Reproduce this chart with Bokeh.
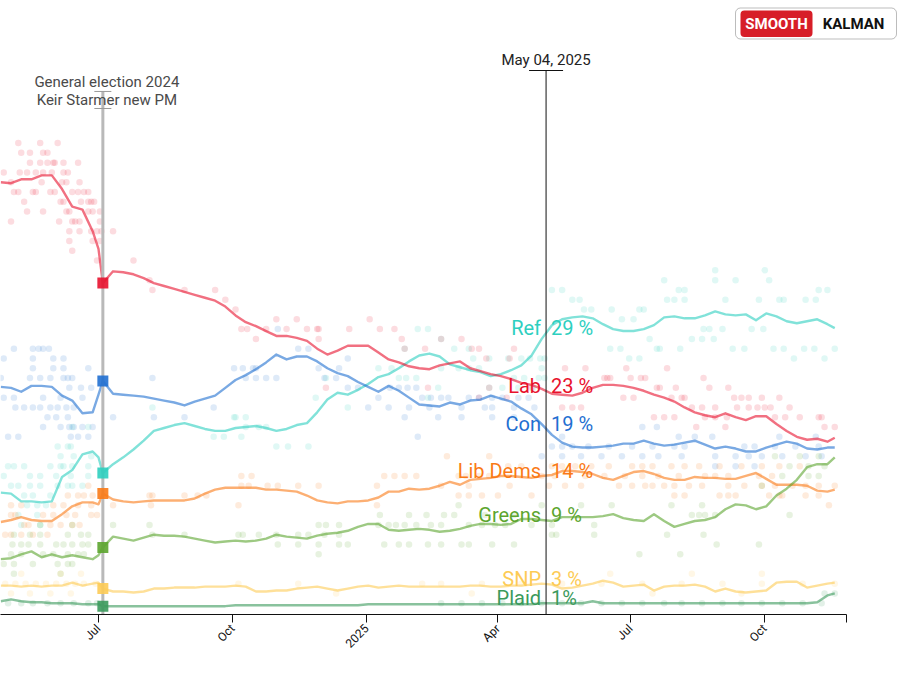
import math
import numpy as np
import pandas as pd
from bokeh.plotting import figure
from bokeh.models import Range1d, FixedTicker, CustomJSTickFormatter, Label, BoxAnnotation
from bokeh.core.properties import value
from bokeh.embed import file_html
from bokeh.resources import INLINE

FONT = "Roboto"

# ---------------- data ----------------
pre_dates = ["2024-04-25", "2024-05-02", "2024-05-09", "2024-05-16", "2024-05-23", "2024-05-30",
             "2024-06-06", "2024-06-13", "2024-06-20", "2024-06-27", "2024-07-01", "2024-07-04"]
post_dates = [d.strftime("%Y-%m-%d") for d in pd.date_range("2024-07-11", "2025-11-13", freq="7D")] + ["2025-11-18"]
dates = pd.to_datetime(pre_dates + post_dates)

parties = ["Ref", "Lab", "Con", "Lib Dems", "Greens", "SNP", "Plaid"]

ref = [12.3, 12.2, 11.4, 11.4, 11.3, 11.4, 13.9, 14.6, 16.2, 16.5, 15.9, 14.3,
       15.2, 15.9, 16.7, 17.6, 18.6, 18.9, 19.2, 19.4, 19.1, 18.8, 18.6, 18.6,
       18.9, 19.0, 19.1, 18.9, 18.6, 18.8, 19.2, 19.4, 20.5, 21.8, 22.5, 22.3, 22.8,
       23.4, 24.1, 24.4, 25.0, 25.7, 26.3, 26.5, 26.2, 25.4, 25.1, 24.8, 24.6, 24.2, 24.4, 24.8, 25.3, 26.3,
       28.0, 29.4, 30.0, 30.2, 30.3,
       30.1, 29.5,
       29.0, 28.8, 28.8, 29.0, 29.4, 30.2, 30.3, 30.1, 30.1, 30.4, 30.8, 30.5, 30.4, 30.5, 29.9, 30.6, 30.3, 29.8, 29.6, 29.8,
       30.0, 29.5, 29.1]
lab = [44.0, 43.9, 44.3, 44.3, 44.7, 44.7, 43.3, 41.5, 41.2, 39.0, 37.2, 33.7,
       34.9, 34.8, 34.6, 34.2, 33.7, 33.4, 33.1, 32.8, 32.5, 32.2, 31.9, 31.3,
       30.4, 29.7, 29.3, 28.8, 28.3, 28.3, 28.1, 27.8, 27.0, 26.4, 26.8, 27.3, 27.3,
       27.3, 26.6, 25.9, 25.6, 25.2, 25.0, 24.9, 25.3, 25.5, 25.7, 25.0, 24.7, 24.4, 24.2, 23.9, 23.5, 23.3,
       22.9, 22.4, 22.3, 22.2, 22.5,
       23.0, 23.3,
       23.3, 23.2, 23.0, 22.7, 22.3, 22.0, 21.6, 21.0, 20.5, 20.2, 20.0, 20.4, 20.0, 19.7, 20.1, 20.1, 19.3, 18.6, 18.0, 17.7,
       17.8, 17.5, 17.9]
con = [23.1, 23.0, 22.6, 23.2, 23.2, 23.1, 22.2, 21.7, 20.4, 20.5, 22.3, 23.7,
       22.4, 22.3, 22.2, 22.1, 21.9, 21.7, 21.5, 21.2, 21.6, 21.9, 22.2, 23.0,
       23.8, 24.3, 24.9, 25.6, 26.4, 25.9, 26.2, 26.2, 25.7, 25.0, 24.5, 24.2, 23.6,
       23.1, 22.6, 23.2, 22.7, 22.0, 21.3, 21.2, 21.1, 21.5, 21.3, 21.7, 21.8, 22.2, 21.9, 21.6, 20.9, 20.3,
       19.3, 18.2, 17.4, 17.0, 16.9,
       16.9, 17.0,
       17.1, 17.3, 17.3, 17.6, 17.3, 17.1, 17.2, 17.4, 17.6, 17.2, 16.8, 17.0, 16.8, 16.5, 16.5, 16.9, 17.2, 17.5, 17.3, 16.8,
       16.7, 16.9, 16.9]
libdems = [9.3, 9.5, 9.8, 9.5, 9.4, 9.4, 10.1, 10.9, 11.3, 11.3, 11.1, 12.2,
           11.6, 11.4, 11.3, 11.4, 11.5, 11.5, 11.5, 11.5, 11.7, 12.2, 12.6, 12.8,
           12.8, 12.8, 12.8, 12.6, 12.6, 12.5, 12.4, 12.0, 11.5, 11.3, 11.2, 11.4, 11.4,
           11.5, 11.8, 12.4, 12.4, 12.7, 12.6, 12.7, 13.0, 13.4, 13.1, 13.6, 13.7, 13.8, 14.0, 14.0, 13.9, 13.8,
           14.0, 14.1, 14.5, 14.5, 14.4,
           14.2, 13.8,
           13.6, 14.0, 14.4, 14.5, 14.2, 13.8, 13.6, 13.6, 13.9, 13.8, 13.8, 13.7, 13.7, 14.0, 14.3, 13.7, 13.1, 13.1, 13.1, 13.0,
           12.5, 12.4, 12.6]
greens = [5.5, 5.6, 6.0, 6.3, 5.7, 6.0, 5.7, 5.9, 5.7, 5.5, 5.9, 6.7,
          7.8, 7.6, 7.4, 7.7, 8.0, 7.9, 7.9, 7.8, 7.6, 7.4, 7.2, 7.3,
          7.4, 7.3, 7.4, 7.6, 8.0, 7.8, 7.7, 7.6, 7.9, 8.1, 8.2, 8.4, 8.8,
          9.1, 9.1, 8.5, 8.4, 8.5, 8.6, 8.5, 8.3, 8.4, 8.6, 8.9, 9.1, 9.1, 9.0, 9.1, 9.6, 9.6,
          9.5, 9.4, 9.8, 9.8, 9.8,
          9.8, 9.9,
          10.1, 9.7, 9.5, 9.4, 10.1, 9.4, 8.8, 9.1, 9.4, 9.5, 9.8, 10.6, 11.1, 11.0, 10.6, 10.9, 12.0, 12.7, 13.6, 14.9,
          15.2, 15.2, 15.9]
snp = [2.8, 2.8, 2.7, 2.8, 2.7, 2.8, 2.8, 3.1, 2.8, 3.0, 3.1, 2.5,
       2.2, 2.2, 2.1, 2.2, 2.5, 2.5, 2.6, 2.6, 2.6, 2.7, 2.7, 2.7,
       2.8, 2.7, 2.2, 2.2, 2.3, 2.3, 2.5, 2.6, 2.7, 2.5, 2.3, 2.5, 2.7,
       2.8, 2.6, 2.7, 2.8, 2.7, 2.7, 2.7, 2.7, 2.7, 2.7, 2.8, 2.8, 2.7, 2.7, 2.8, 2.8, 2.9,
       3.0, 2.9, 2.5, 2.6, 2.8,
       3.0, 3.3,
       3.1, 2.7, 2.8, 2.9, 2.3, 2.7, 2.8, 2.8, 2.9, 2.7, 2.2, 2.5, 2.2, 2.1, 2.2, 2.3, 3.1, 3.2, 3.2, 2.6,
       2.8, 3.0, 3.1]
plaid = [1.2, 1.4, 1.2, 1.1, 1.1, 1.0, 1.0, 1.0, 0.9, 0.9, 0.9, 0.7,
         0.7, 0.7, 0.7, 0.7, 0.7, 0.7, 0.7, 0.7, 0.7, 0.7, 0.7, 0.7,
         0.8, 0.8, 0.8, 0.8, 0.8, 0.8, 0.8, 0.8, 0.8, 0.8, 0.8, 0.8, 0.8,
         0.9, 0.9, 0.9, 0.9, 0.9, 0.9, 0.9, 0.9, 0.9, 0.9, 0.9, 0.9, 0.9, 0.9, 0.9, 0.9, 0.9,
         1.0, 1.0, 1.0, 1.0, 1.0,
         1.2, 1.0,
         1.0, 1.0, 1.0, 1.0, 1.0, 1.0, 1.0, 1.0, 1.0, 1.0, 1.0, 1.0, 1.0, 1.0, 1.0, 1.0, 1.0, 1.0, 1.0, 1.0,
         1.1, 1.8, 2.0]

series = {"Ref": ref, "Lab": lab, "Con": con, "Lib Dems": libdems,
          "Greens": greens, "SNP": snp, "Plaid": plaid}
for k, v in series.items():
    assert len(v) == len(dates), (k, len(v), len(dates))

# individual polls: value -> list of field dates
polls_lab = {
    48: ["2024-05-07", "2024-05-22", "2024-06-03"],
    47: ["2024-05-09", "2024-05-15", "2024-05-24", "2024-05-27"],
    46: ["2024-05-15", "2024-05-22", "2024-05-27", "2024-05-31", "2024-06-01", "2024-06-07", "2024-06-17"],
    45: ["2024-04-27", "2024-05-08", "2024-05-13", "2024-05-19", "2024-05-24", "2024-05-30", "2024-06-07", "2024-06-10"],
    44: ["2024-05-02", "2024-05-23", "2024-06-06", "2024-06-09", "2024-06-18"],
    43: ["2024-05-04", "2024-05-07", "2024-05-17", "2024-05-19", "2024-05-29", "2024-06-01", "2024-06-13", "2024-06-17", "2024-06-21", "2024-06-24"],
    42: ["2024-05-11", "2024-06-05", "2024-06-07", "2024-06-19", "2024-06-24", "2024-06-26", "2024-06-28"],
    41: ["2024-05-13", "2024-05-24", "2024-06-09", "2024-06-11", "2024-06-24", "2024-06-27", "2024-07-02"],
    40: ["2024-05-02", "2024-06-04", "2024-06-13", "2024-06-15", "2024-06-18", "2024-07-02"],
    39: ["2024-06-11", "2024-06-18", "2024-06-26", "2024-06-30", "2024-07-03", "2024-07-11"],
    38: ["2024-06-11", "2024-06-27", "2024-07-02"],
    37: ["2024-06-13"],
    36: ["2024-06-30", "2024-07-25"],
    34: ["2024-08-05"],
    33: ["2024-08-07", "2024-08-29", "2024-09-19"],
    32: ["2024-09-26"],
    31: ["2024-10-03"],
    30: ["2024-10-31", "2024-11-14", "2025-01-03"],
    29: ["2024-10-07", "2024-10-11", "2024-10-24", "2024-11-07", "2024-11-21", "2024-11-28", "2024-11-29", "2024-12-20", "2025-01-10", "2025-01-20"],
    28: ["2024-10-17", "2024-11-29", "2025-01-25", "2025-02-21", "2025-03-07"],
    27: ["2025-01-27", "2025-02-10", "2025-03-14", "2025-03-19", "2025-04-12"],
    26: ["2025-03-24", "2025-04-09"],
    25: ["2025-05-17", "2025-05-31", "2025-06-28", "2025-07-26"],
    24: ["2025-06-13", "2025-06-15", "2025-06-17", "2025-07-01", "2025-07-08", "2025-07-11", "2025-08-20"],
    23: ["2024-12-04", "2025-02-12", "2025-03-26", "2025-04-24", "2025-07-19", "2025-07-21", "2025-08-01", "2025-08-24", "2025-09-06"],
    22: ["2025-03-19", "2025-04-07", "2025-06-26", "2025-07-03", "2025-07-29", "2025-08-05", "2025-08-07", "2025-09-10", "2025-09-15", "2025-09-20", "2025-09-29", "2025-10-11"],
    21: ["2025-05-15", "2025-05-22", "2025-05-28", "2025-08-12", "2025-08-19", "2025-08-28", "2025-09-12", "2025-09-20", "2025-09-26", "2025-10-01", "2025-10-05", "2025-10-18"],
    20: ["2025-07-17", "2025-07-24", "2025-07-31", "2025-08-21", "2025-08-28", "2025-09-05", "2025-10-08", "2025-10-15", "2025-10-25", "2025-11-07", "2025-11-09"],
    19: ["2025-08-15", "2025-09-04", "2025-11-11", "2025-11-18"],
}
polls_con = {
    29: ["2024-11-01"],
    27: ["2024-05-04", "2024-05-17", "2024-05-21", "2024-05-24", "2024-05-28", "2024-11-15", "2024-11-22"],
    26: ["2024-04-27", "2024-05-17", "2024-05-31", "2024-06-07", "2024-12-19"],
    25: ["2024-05-17", "2024-05-31", "2024-06-07", "2024-06-24", "2024-10-02", "2024-10-08", "2024-10-15", "2024-10-17", "2024-11-29", "2024-12-13"],
    24: ["2024-04-25", "2024-05-15", "2024-05-22", "2024-05-29", "2024-06-07", "2024-06-10", "2024-06-13", "2024-08-07", "2024-10-10", "2024-10-17", "2024-10-24", "2024-10-31", "2024-12-03", "2024-12-11"],
    23: ["2024-06-11", "2024-06-19", "2024-06-26", "2024-12-19", "2024-12-26", "2025-01-17", "2025-01-23", "2025-01-29", "2025-02-04"],
    22: ["2024-04-27", "2024-05-04", "2024-05-24", "2024-06-05", "2024-06-20", "2025-01-09", "2025-02-08", "2025-02-14", "2025-02-21", "2025-02-26", "2025-03-12", "2025-03-19", "2025-03-28", "2025-04-04", "2025-04-15", "2025-04-22"],
    21: ["2024-05-05", "2024-05-11", "2024-05-17", "2024-05-22", "2024-05-29", "2024-06-03", "2024-06-09", "2024-06-14", "2024-09-18", "2025-01-02", "2025-01-16", "2025-01-30", "2025-02-13", "2025-03-07", "2025-03-23", "2025-03-28", "2025-04-12", "2025-04-26"],
    20: ["2024-05-27", "2024-06-02", "2024-06-10", "2024-07-11", "2024-08-08", "2024-08-29", "2025-01-27", "2025-02-19", "2025-03-07", "2025-03-28", "2025-04-12"],
    19: ["2024-05-24", "2024-06-05", "2024-06-11", "2024-06-14", "2024-06-20", "2024-06-27", "2025-07-09", "2025-07-19"],
    18: ["2024-04-30", "2024-05-07", "2024-06-12", "2024-06-17", "2024-06-24", "2025-02-05", "2025-05-15", "2025-08-03", "2025-08-14", "2025-08-26", "2025-10-11", "2025-11-05"],
    17: ["2025-05-08", "2025-05-15", "2025-05-22", "2025-06-02", "2025-06-16", "2025-07-02", "2025-07-16", "2025-07-31", "2025-08-07", "2025-09-17", "2025-09-24", "2025-10-08", "2025-10-22", "2025-11-07"],
    16: ["2025-05-01", "2025-05-15", "2025-05-28", "2025-06-11", "2025-06-25", "2025-07-09", "2025-07-20", "2025-08-05", "2025-08-28", "2025-09-11", "2025-09-20", "2025-09-29", "2025-10-13", "2025-10-29", "2025-11-09"],
    15: ["2025-08-28", "2025-09-11", "2025-09-24"],
}
polls_ref = {
    35: ["2025-08-28", "2025-10-01"],
    34: ["2025-07-24", "2025-08-28", "2025-09-11", "2025-10-04"],
    33: ["2025-05-08", "2025-05-15", "2025-08-03", "2025-08-07", "2025-11-07", "2025-11-13"],
    32: ["2025-05-22", "2025-05-27", "2025-07-26", "2025-07-31", "2025-08-07", "2025-09-04", "2025-09-27", "2025-10-11", "2025-10-14", "2025-10-29", "2025-11-05"],
    31: ["2025-05-30", "2025-06-04", "2025-06-18", "2025-07-07", "2025-07-10"],
    30: ["2025-06-25", "2025-07-03"],
    29: ["2025-02-05", "2025-02-12", "2025-08-20", "2025-08-24", "2025-09-02", "2025-09-22", "2025-09-30"],
    28: ["2025-02-21", "2025-07-14", "2025-08-12", "2025-08-19", "2025-08-27"],
    27: ["2025-01-27", "2025-03-02", "2025-03-12", "2025-06-17", "2025-06-24", "2025-07-19", "2025-07-21", "2025-08-04", "2025-09-09", "2025-09-17", "2025-10-07", "2025-10-14", "2025-10-28", "2025-11-04", "2025-11-18"],
    26: ["2025-03-15", "2025-03-26", "2025-04-08", "2025-04-17", "2025-04-23", "2025-04-30", "2025-05-03", "2025-06-30", "2025-07-07", "2025-10-21", "2025-11-11"],
    25: ["2025-01-09", "2025-01-18", "2025-02-21", "2025-03-05", "2025-03-12", "2025-03-19", "2025-05-01"],
    24: ["2024-12-04", "2025-01-23", "2025-01-28", "2025-02-04", "2025-04-12", "2025-04-19", "2025-04-29", "2025-05-03"],
    23: ["2025-02-19", "2025-03-26", "2025-04-04", "2025-04-15", "2025-04-25"],
    22: ["2024-11-27", "2025-02-12"],
    21: ["2024-08-07", "2024-12-19"],
    20: ["2024-10-02", "2024-10-03", "2024-10-10"],
    19: ["2024-06-13", "2024-06-24", "2024-10-10", "2024-10-19", "2024-10-24"],
    18: ["2024-09-18", "2024-09-25", "2024-10-07"],
    17: ["2024-06-03", "2024-06-10", "2024-06-12", "2024-10-31", "2024-11-08", "2024-11-22"],
    16: ["2024-06-05", "2024-06-14", "2024-06-26"],
    15: ["2024-04-30", "2024-05-04", "2024-05-11", "2024-05-29", "2024-06-05", "2024-06-07", "2024-06-13", "2024-06-24"],
    14: ["2024-04-27", "2024-05-15", "2024-05-22", "2024-06-02", "2024-06-12", "2024-06-24"],
    13: ["2024-05-02", "2024-05-07", "2024-05-15", "2024-05-22", "2024-06-03", "2024-06-10", "2024-06-13", "2024-06-20"],
    12: ["2024-05-11", "2024-05-17", "2024-05-29"],
    11: ["2024-05-13", "2024-05-20", "2024-05-26"],
    10: ["2024-05-07", "2024-05-20"],
    9: ["2024-05-09", "2024-05-22"],
}
polls_ld = {
    16: ["2025-02-25", "2025-03-26"],
    15: ["2025-04-08", "2025-04-17", "2025-05-08", "2025-05-15", "2025-05-24", "2025-06-04", "2025-06-16", "2025-07-02", "2025-07-09", "2025-07-16", "2025-07-29", "2025-08-07", "2025-08-17", "2025-08-31", "2025-09-15", "2025-09-29", "2025-10-11", "2025-10-25"],
    14: ["2024-10-07", "2024-10-14", "2025-01-13", "2025-01-20", "2025-01-27", "2025-02-04", "2025-03-05", "2025-03-10", "2025-03-19", "2025-03-26", "2025-05-01", "2025-05-10", "2025-05-31", "2025-06-13", "2025-06-27", "2025-07-09", "2025-07-20", "2025-08-03", "2025-08-21", "2025-08-28", "2025-09-06", "2025-09-27", "2025-10-06"],
    13: ["2024-06-24", "2024-10-07", "2024-10-12", "2024-10-25", "2024-11-01", "2024-11-15", "2024-11-29", "2025-01-08", "2025-02-21", "2025-03-12", "2025-04-09", "2025-05-06", "2025-05-17", "2025-05-28", "2025-06-23", "2025-07-02", "2025-07-11", "2025-07-16", "2025-07-24", "2025-07-31", "2025-08-10", "2025-08-19", "2025-09-06", "2025-09-17", "2025-09-29", "2025-10-08", "2025-10-20", "2025-10-29", "2025-11-07", "2025-11-18"],
    12: ["2024-06-10", "2024-06-17", "2024-06-21", "2024-06-27", "2024-08-05", "2024-08-07", "2024-08-29", "2024-09-07", "2024-09-13", "2025-03-05", "2025-03-12", "2025-03-21", "2025-04-01", "2025-04-24", "2025-07-31", "2025-08-07", "2025-08-31", "2025-09-06", "2025-09-11", "2025-10-04", "2025-10-11", "2025-10-13", "2025-10-29", "2025-11-07"],
    11: ["2024-05-02", "2024-05-09", "2024-05-31", "2024-06-07", "2024-06-17", "2024-06-26", "2024-07-11", "2024-08-06", "2024-10-05", "2025-01-08", "2025-11-14"],
    10: ["2024-05-02", "2024-05-05", "2024-05-24", "2024-05-31", "2024-06-09", "2024-06-15", "2024-06-26", "2024-06-30"],
    9: ["2024-05-11", "2024-05-14", "2024-05-29", "2024-06-05", "2024-06-13", "2024-06-18"],
    8: ["2024-04-28", "2024-05-02", "2024-05-09", "2024-05-17", "2024-05-27"],
}
polls_greens = {
    16: ["2025-10-08", "2025-10-25", "2025-11-07"],
    15: ["2025-10-18", "2025-10-31", "2025-11-11"],
    14: ["2025-10-13", "2025-10-31", "2025-11-07"],
    13: ["2025-09-29"],
    11: ["2025-03-05", "2025-05-01", "2025-05-28", "2025-06-18", "2025-07-29", "2025-08-19"],
    10: ["2025-01-10", "2025-01-30", "2025-02-11", "2025-02-23", "2025-03-02", "2025-03-23", "2025-04-12", "2025-08-12", "2025-08-17", "2025-08-21", "2025-08-28", "2025-10-18"],
    9: ["2024-05-22", "2024-06-13", "2024-07-11", "2024-08-05", "2024-11-29", "2024-12-04", "2024-12-13", "2025-01-09", "2025-01-16", "2025-01-21", "2025-01-27", "2025-02-04", "2025-02-14", "2025-02-21", "2025-03-12", "2025-03-21", "2025-03-30", "2025-04-06", "2025-04-24", "2025-05-08", "2025-06-06"],
    8: ["2024-05-04", "2024-05-15", "2024-05-22", "2024-06-10", "2024-06-19", "2024-06-24", "2024-08-07", "2024-08-29", "2024-10-05", "2024-10-08", "2024-10-19", "2024-10-31", "2024-11-15", "2024-11-22", "2024-12-03", "2024-12-13", "2025-05-08", "2025-05-11", "2025-06-06", "2025-07-26", "2025-08-20"],
    7: ["2024-05-03", "2024-05-09", "2024-05-14", "2024-05-22", "2024-06-02", "2024-06-07", "2024-06-13", "2024-06-20", "2024-06-24", "2024-11-01", "2024-11-15", "2024-11-29", "2024-12-13", "2024-12-19", "2025-01-13", "2025-01-23", "2025-01-30", "2025-02-12", "2025-02-21", "2025-03-07", "2025-03-12", "2025-03-28", "2025-04-12", "2025-08-29", "2025-09-27"],
    6: ["2024-05-02", "2024-05-09", "2024-05-24", "2024-05-31", "2024-06-10", "2024-06-17", "2024-06-21", "2024-11-29", "2025-07-07", "2025-08-04"],
    5: ["2024-04-27", "2024-05-04", "2024-05-17", "2024-06-03", "2024-06-10", "2024-06-13"],
    4: ["2024-05-04", "2024-06-05"],
}
polls_snp = {
    4: ["2024-05-09", "2024-06-05", "2024-06-19", "2025-06-17", "2025-08-12", "2025-09-29"],
    3: ["2024-04-28", "2024-05-05", "2024-05-12", "2024-05-19", "2024-05-26", "2024-06-02", "2024-06-09", "2024-06-15", "2024-06-21", "2024-06-29", "2024-10-05", "2024-11-15", "2025-02-08", "2025-02-21", "2025-03-21", "2025-04-17", "2025-05-15", "2025-06-11", "2025-07-09", "2025-08-05", "2025-09-02", "2025-09-29", "2025-10-27", "2025-11-18"],
    2: ["2024-05-02", "2024-05-15", "2024-05-29", "2024-06-12", "2024-12-11", "2025-03-14", "2025-07-16", "2025-09-15"],
}
polls_plaid = {
    2: ["2025-11-11", "2025-11-18"],
    1: ["2024-04-30", "2024-05-09", "2024-05-17", "2024-05-27", "2024-06-05", "2024-06-14", "2024-06-24", "2024-06-30", "2025-02-21", "2025-03-07", "2025-03-21", "2025-04-04", "2025-04-17", "2025-05-01", "2025-05-15", "2025-05-28", "2025-06-11", "2025-06-25", "2025-07-09", "2025-07-24", "2025-08-05", "2025-08-19", "2025-09-02", "2025-09-15", "2025-09-29", "2025-10-13", "2025-10-27", "2025-11-09"],
}
polls = {"Ref": polls_ref, "Lab": polls_lab, "Con": polls_con, "Lib Dems": polls_ld,
         "Greens": polls_greens, "SNP": polls_snp, "Plaid": polls_plaid}

label_texts = ["29 %", "23 %", "19 %", "14 %", "9 %", "3 %", "1%"]
colors = ["#2DCFBF", "#E8112D", "#1F6FD1", "#FA7A16", "#5CA52E", "#FDCB55", "#3B9A5C"]

election_date = pd.Timestamp("2024-07-04")
marker_date = pd.Timestamp("2025-05-04")
tick_dates = ["2024-07-01", "2024-10-01", "2025-01-01", "2025-04-01", "2025-07-01", "2025-10-01"]
axis_end = pd.Timestamp("2025-11-26")

# ---------------- figure ----------------
x_start = pd.Timestamp("2024-04-24 19:00")
x_end = pd.Timestamp("2026-01-01 10:00")
Y_LO, Y_HI = -0.15, 62.56

def ms(t):
    return pd.Timestamp(t).value / 1e6

p = figure(width=899, height=676, x_axis_type="datetime",
           x_range=Range1d(x_start, x_end), y_range=Range1d(Y_LO, Y_HI),
           output_backend="svg", toolbar_location=None, y_axis_location=None,
           min_border_left=0, min_border_right=0, min_border_top=0, min_border_bottom=62,
           outline_line_color=None, background_fill_color="white", border_fill_color="white")
p.xgrid.visible = False
p.ygrid.visible = False

ax = p.xaxis[0]
ax.ticker = FixedTicker(ticks=[ms(t) for t in tick_dates], minor_ticks=[ms(axis_end)])
ax.formatter = CustomJSTickFormatter(code="""
const d = new Date(tick);
const m = d.getUTCMonth();
if (m === 0) { return String(d.getUTCFullYear()); }
return ["Jan","Feb","Mar","Apr","May","Jun","Jul","Aug","Sep","Oct","Nov","Dec"][m];
""")
ax.bounds = (ms(x_start), ms(axis_end))
ax.axis_line_color = "#111111"
ax.axis_line_width = 1
ax.major_tick_out = 8
ax.major_tick_in = 0
ax.minor_tick_out = 8
ax.minor_tick_in = 0
ax.major_tick_line_color = "#111111"
ax.minor_tick_line_color = "#111111"
ax.major_label_orientation = math.pi / 4
ax.major_label_text_font = FONT
ax.major_label_text_font_size = "12px"
ax.major_label_text_color = "#111111"
ax.major_label_standoff = 4

# poll dots
for party, col in zip(parties, colors):
    xs, ys = [], []
    for val, ds in polls[party].items():
        for d in ds:
            xs.append(pd.Timestamp(d))
            ys.append(val)
    p.scatter(xs, ys, size=6.5, fill_color=col, fill_alpha=0.15, line_color=None)

# trend lines
for party, col in zip(parties, colors):
    p.line(dates, series[party], line_color=col, line_alpha=0.6, line_width=2.4, line_join="round")

# election marker
ELECTION_TOP = 53.27
p.segment(x0=[election_date], y0=[Y_LO], x1=[election_date], y1=[ELECTION_TOP],
          line_color="#b9b9b9", line_width=3)
p.scatter([election_date, election_date], [ELECTION_TOP, 51.53], marker="dash", size=17,
          line_color="#9a9a9a", line_width=1)
eidx = list(dates).index(election_date)
p.scatter([election_date] * len(parties), [series[k][eidx] for k in parties], marker="square",
          size=11, fill_color=colors, fill_alpha=0.9, line_color=None)
p.text(x=[election_date, election_date], y=[54.19, 52.35],
       text=["General election 2024", "Keir Starmer new PM"], x_offset=4,
       text_align="center", text_baseline="middle", text_font=value(FONT),
       text_font_size="15px", text_color="#4a4a4a")

# current-date marker
MARKER_TOP = 55.41
p.segment(x0=[marker_date], y0=[Y_LO], x1=[marker_date], y1=[MARKER_TOP],
          line_color="#111111", line_width=1)
p.scatter([marker_date], [MARKER_TOP], marker="dash", size=34, line_color="#111111", line_width=1)
p.text(x=[marker_date], y=[56.53], text=["May 04, 2025"], text_align="center",
       text_baseline="middle", text_font=value(FONT), text_font_size="15px", text_color="#222222")

# party labels at the marker date
xnum = dates.values.astype("int64")
mnum = marker_date.value
lbl_y = [float(np.interp(mnum, xnum, series[k])) for k in parties]
p.text(x=[marker_date] * len(parties), y=lbl_y, text=parties, x_offset=-5, y_offset=-5,
       text_align="right", text_baseline="middle", text_font=value(FONT),
       text_font_size="20px", text_color=colors)
p.text(x=[marker_date] * len(parties), y=lbl_y, text=label_texts, x_offset=5, y_offset=-5,
       text_align="left", text_baseline="middle", text_font=value(FONT),
       text_font_size="20px", text_color=colors)

# SMOOTH / KALMAN toggle
FB = 614  # frame bottom in canvas pixels
p.add_layout(BoxAnnotation(left=735, right=896, top=FB - 7.5, bottom=FB - 38.5,
                           left_units="screen", right_units="screen",
                           top_units="screen", bottom_units="screen",
                           fill_color="white", fill_alpha=1.0, line_color="#222222",
                           line_width=1, border_radius=5))
p.add_layout(BoxAnnotation(left=740, right=812, top=FB - 10, bottom=FB - 36.5,
                           left_units="screen", right_units="screen",
                           top_units="screen", bottom_units="screen",
                           fill_color="#D71E28", fill_alpha=1.0, line_color=None,
                           border_radius=4))
p.add_layout(Label(x=776, y=FB - 23.3, x_units="screen", y_units="screen", text="SMOOTH",
                   text_align="center", text_baseline="middle", text_font=FONT,
                   text_font_style="bold", text_font_size="15px", text_color="white"))
p.add_layout(Label(x=853, y=FB - 23.3, x_units="screen", y_units="screen", text="KALMAN",
                   text_align="center", text_baseline="middle", text_font=FONT,
                   text_font_style="bold", text_font_size="15px", text_color="#111111"))

open("out.html", "w").write(file_html(p, INLINE))
